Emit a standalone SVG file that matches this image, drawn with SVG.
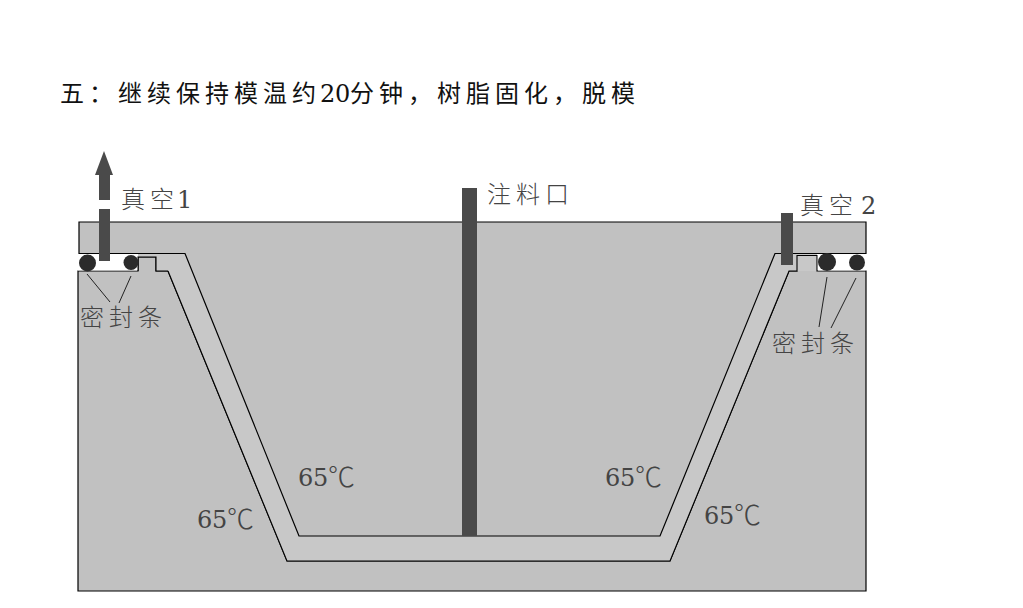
<svg xmlns="http://www.w3.org/2000/svg" width="1023" height="608" viewBox="0 0 1023 608">
<style>
.m{fill:#c1c1c1;stroke:#000;stroke-width:1.2}
.c{fill:#c8c8c8}
.o{fill:none;stroke:#000;stroke-width:1.1}
.p{fill:#4a4a4a}
.s{fill:#2b2b2b}
.l{fill:none;stroke:#222;stroke-width:1}
text{font-family:"Noto Sans CJK SC","DejaVu Serif",serif}
.t{font-size:24px;fill:#111;font-weight:400}
.g{font-size:24px;fill:#444;font-weight:300}
.d{font-family:"DejaVu Serif",serif}
.k{font-size:27px}
</style>
<rect width="1023" height="608" fill="#fff"/>
<text id="title" class="t" y="102" x="60 89 118 147 176 205 234 263 292">五：继续保持模温约</text>
<text id="title-2" class="t d" y="102" x="320 335">20</text>
<text id="title-3" class="t" y="102" x="350 379 408 437 466 495 524 553 582 611">分钟，树脂固化，脱模</text>
<g id="lower-mould"><path class="m" d="M78 271H138V257H156V271H168L287 561H670L789 271H797V255.500H817V271H866V591H78Z"/></g>
<g id="cavity"><path class="c" d="M168 271H156V257H138V253.500H817V271H789L670 561H287Z"/><path class="o" d="M168 271L287 561H670L789 271H797V255.500H817V271M138 271V257H156V271H168"/></g>
<g id="upper-mould"><path class="m" d="M79 222H866V253.500H775L660 536H299L185 253.500H79Z"/></g>
<g id="gap-right"><rect x="817.600" y="254.200" width="48" height="16.200" fill="#fff"/></g>
<g id="gap-left"><rect x="78" y="254.200" width="59.400" height="16.200" fill="#fff"/></g>
<g id="seal-1"><circle class="s" cx="87.500" cy="263" r="8.500"/></g>
<g id="seal-2"><circle class="s" cx="131" cy="262.500" r="7.500"/></g>
<g id="seal-3"><circle class="s" cx="827" cy="262" r="9"/></g>
<g id="seal-4"><circle class="s" cx="857" cy="262.500" r="8"/></g>
<g id="vacuum-1-pipe"><rect class="p" x="99" y="209" width="11" height="52"/><path class="p" d="M99 200V175H95L104 151L113 175H110V200Z"/></g>
<g id="inlet-pipe"><rect class="p" x="462" y="188" width="15" height="348"/></g>
<g id="vacuum-2-pipe"><rect class="p" x="781" y="213" width="12" height="52"/></g>
<g id="connectors">
<path class="l" d="M87 274L110 302M131 276L119 303M827 277L819 327M856 278L831 328"/>
</g>
<g id="labels">
<text class="g" y="208" x="121 150">真空</text><text class="g d" y="208" x="177">1</text>
<text class="g" y="203" x="487 516 545">注料口</text>
<text class="g" y="214" x="800 829">真空</text><text class="g d" y="214" x="861">2</text>
<text class="g" y="326" x="80 109 138">密封条</text>
<text class="g" y="352" x="772 801 830">密封条</text>
<text class="g d" y="486" x="298 313">65</text><text class="g k" y="487" x="328">℃</text>
<text class="g d" y="528" x="197 212">65</text><text class="g k" y="529" x="227">℃</text>
<text class="g d" y="486" x="605 620">65</text><text class="g k" y="487" x="635">℃</text>
<text class="g d" y="524" x="704 719">65</text><text class="g k" y="525" x="734">℃</text>
</g>
</svg>
